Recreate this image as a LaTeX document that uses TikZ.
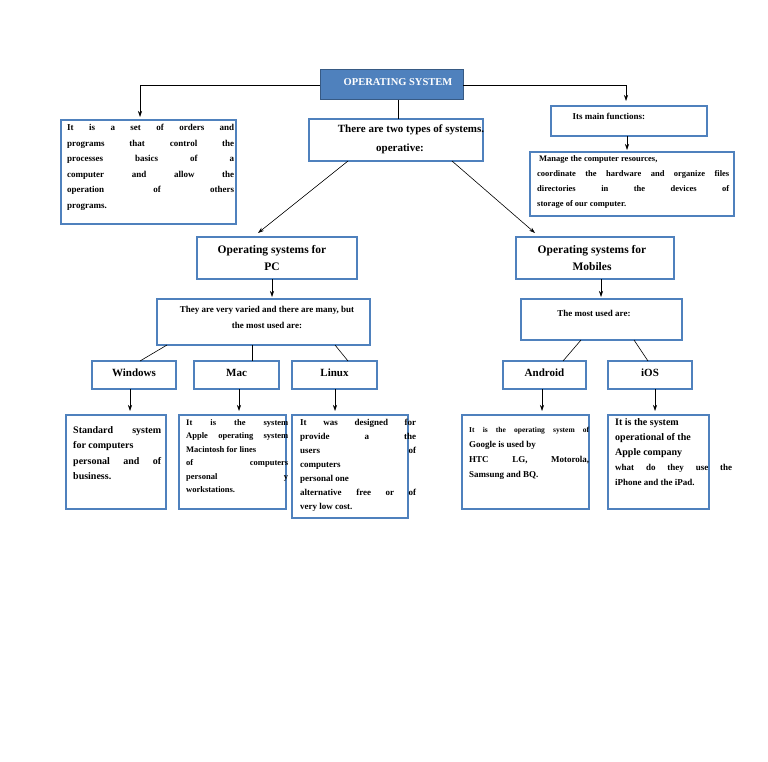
\documentclass[tikz,border=0pt]{standalone}
\usepackage{fontspec}
\setmainfont{Liberation Serif}
\usetikzlibrary{arrows.meta}
\begin{document}
\begin{tikzpicture}[x=1pt,y=-1pt,
  bx/.style={draw=boxblue,line width=1.2pt},
  con/.style={draw=black,line width=0.6pt},
  arr/.style={con,-{Stealth[length=6pt,width=4pt]}},
  txt/.style={font=\bfseries\fontsize{9}{15.5}\selectfont,align=justify,anchor=north west,inner sep=0pt},
  ttl/.style={font=\bfseries\fontsize{11.5}{17}\selectfont,align=center}]
\definecolor{boxblue}{HTML}{4F81BD}
\useasboundingbox (0,0) rectangle (768,762);
% boxes
\filldraw[fill=boxblue,draw=boxblue!70!black,line width=1pt] (320,70) rectangle (463,100);
\node[font=\bfseries\fontsize{10.5}{12}\selectfont,text=white] (top) at (398,82) {OPERATING SYSTEM};
\draw[bx] (61,120) rectangle (236,224);
\node[txt,text width=167pt] (def) at (67,124) {It is a set of orders and\linebreak programs that control the\linebreak processes basics of a\linebreak computer and allow the\linebreak operation of others\linebreak programs.};
\draw[bx] (309,119) rectangle (483,161);
\node[ttl,font=\bfseries\fontsize{11}{19}\selectfont] (two) at (400,139) {\hspace*{2em}There are two types of systems.\\operative:};
\draw[bx] (551,106) rectangle (707,136);
\node[font=\bfseries\fontsize{9}{10}\selectfont,anchor=west] (fun) at (569,116) {Its main functions:};
\draw[bx] (530,152) rectangle (734,216);
\node[txt,text width=192pt,font=\bfseries\fontsize{8.5}{15}\selectfont] (man) at (537,155) {\hspace*{2pt}Manage the computer resources,\\coordinate the hardware and organize files\linebreak directories in the devices of\linebreak storage of our computer.};
\draw[bx] (197,237) rectangle (357,279);
\node[ttl] (pc) at (272,258) {Operating systems for\\PC};
\draw[bx] (516,237) rectangle (674,279);
\node[ttl] (mob) at (592,258) {Operating systems for\\Mobiles};
\draw[bx] (157,299) rectangle (370,345);
\node[font=\bfseries\fontsize{9}{16}\selectfont,align=center] (var) at (267,317) {They are very varied and there are many, but\\the most used are:};
\draw[bx] (521,299) rectangle (682,340);
\node[font=\bfseries\fontsize{9}{10}\selectfont] (most) at (594,313) {The most used are:};
\foreach \n/\xa/\xb/\t in {win/92/176/Windows,mac/194/279/Mac,lin/292/377/Linux,and/503/586/Android,ios/608/692/iOS}{
  \draw[bx] (\xa,361) rectangle (\xb,389);
  \node[font=\bfseries\fontsize{11}{12}\selectfont] (\n) at ({(\xa+\xb)/2},373) {\t};
}
\draw[bx] (66,415) rectangle (166,509);
\node[txt,text width=88pt,font=\bfseries\fontsize{10}{15.5}\selectfont] (wt) at (73,426) {Standard system\linebreak for computers\\personal and of\linebreak business.};
\draw[bx] (179,415) rectangle (286,509);
\node[txt,text width=102pt,font=\bfseries\fontsize{8.5}{13.5}\selectfont] (mt) at (186,419) {It is the system\linebreak Apple operating system\linebreak Macintosh for lines\\of computers\linebreak personal y\linebreak workstations.};
\draw[bx] (292,415) rectangle (408,518);
\node[txt,text width=116pt,font=\bfseries\fontsize{9}{14}\selectfont] (lt) at (300,419) {It was designed for\linebreak provide a the\linebreak users of\linebreak computers\\personal one\\alternative free or of\linebreak very low cost.};
\draw[bx] (462,415) rectangle (589,509);
\node[txt,text width=120pt,font=\bfseries\fontsize{9}{15}\selectfont] (at) at (469,427) {{\fontsize{7.5}{15}\selectfont It is the operating system of}\linebreak Google is used by\\HTC LG, Motorola,\linebreak Samsung and BQ.};
\draw[bx] (608,415) rectangle (709,509);
\node[txt,text width=117pt,font=\bfseries\fontsize{10}{15}\selectfont] (it) at (615,418) {It is the system\\operational of the\\Apple company\\{\fontsize{9}{15}\selectfont what do they use the\linebreak iPhone and the iPad.}};
% connectors
\coordinate (l1) at (140,85); \coordinate (l2) at (140,117);
\coordinate (r1) at (626,85); \coordinate (r2) at (626,101);
\draw[arr] (320,85) -- (l1) -- (l2);
\draw[arr] (463,85) -- (r1) -- (r2);
\draw[con] (398,100) -- (398,119);
\draw[arr] (627,136) -- (627,150);
\draw[arr] (348,161) -- (258,233);
\draw[arr] (452,161) -- (535,233);
\draw[arr] (272,279) -- (272,297);
\draw[arr] (601,279) -- (601,297);
\draw[con] (167,345) -- (140,361);
\draw[con] (252,345) -- (252,361);
\draw[con] (335,345) -- (348,361);
\draw[con] (581,340) -- (563,361);
\draw[con] (634,340) -- (648,361);
\foreach \x in {130,239,335,542,655}{\draw[arr] (\x,389) -- (\x,411);}
\end{tikzpicture}
\end{document}
